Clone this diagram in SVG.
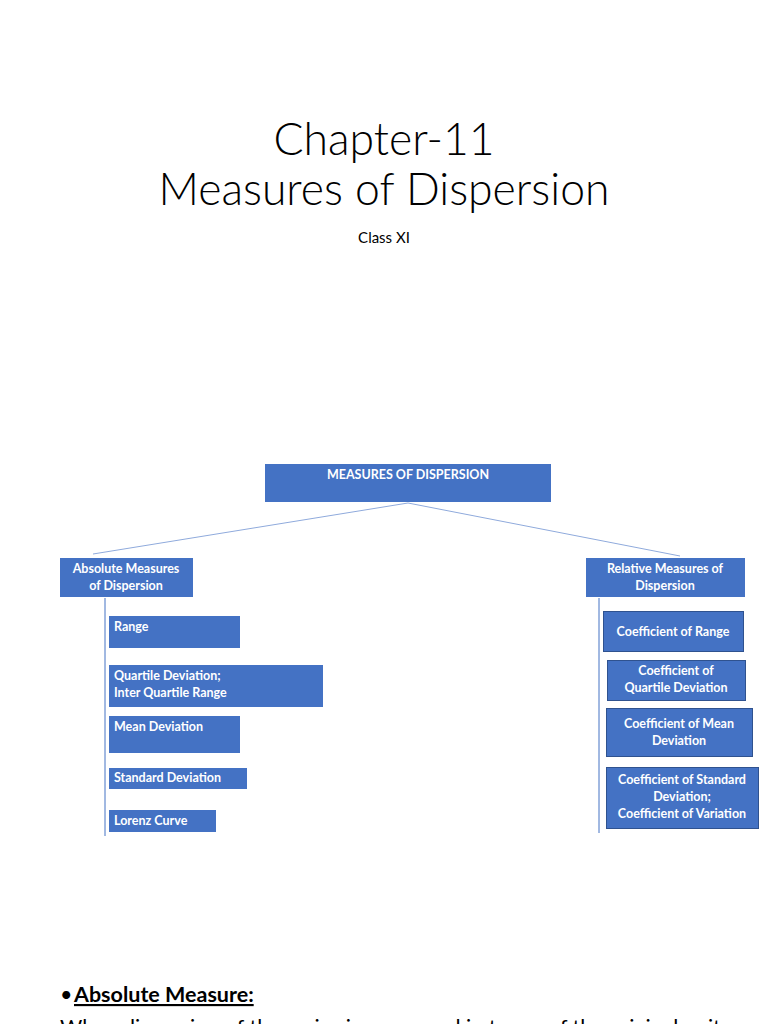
<svg xmlns="http://www.w3.org/2000/svg" width="768" height="1024" viewBox="0 0 768 1024">
<style>
.bg{fill:#ffffff}
.box{fill:#4472C4}
.boxb{fill:#4472C4;stroke:#2F528F;stroke-width:1}
.t{font-family:Lato,"Open Sans","Liberation Sans",sans-serif;font-weight:bold;font-size:12.5px;fill:#ffffff}
.c{text-anchor:middle}
.title{font-family:Lato,"Open Sans","Liberation Sans",sans-serif;font-weight:300;font-size:44.5px;fill:#000000;text-anchor:middle}
.body{font-family:Lato,"Open Sans","Liberation Sans",sans-serif;font-size:21.5px;fill:#000000}
.conn{stroke:#4472C4;stroke-width:1;fill:none}
.conn2{stroke:#8FAADC;stroke-width:1;fill:none}
</style>
<rect class="bg" x="0" y="0" width="768" height="1024"/>
<g id="title">
<text class="title" x="384" y="155">Chapter-11</text>
<text class="title" x="384" y="205">Measures of Dispersion</text>
<text x="384" y="243" text-anchor="middle" style="font-family:Lato,'Liberation Sans',sans-serif;font-size:15px;fill:#000">Class XI</text>
</g>
<g id="connectors">
<line class="conn2" x1="408" y1="503" x2="93" y2="554"/>
<line class="conn2" x1="408" y1="503" x2="680" y2="556"/>
<line class="conn" x1="105" y1="598" x2="105" y2="836"/>
<line class="conn" x1="599" y1="598" x2="599" y2="833"/>
</g>
<g id="root">
<rect class="box" x="265" y="464" width="286" height="38"/>
<text class="t c" x="408" y="479">MEASURES OF DISPERSION</text>
</g>
<g id="absolute">
<rect class="box" x="60" y="558" width="133" height="39"/>
<text class="t c" x="126" y="573">Absolute Measures</text>
<text class="t c" x="126" y="590">of Dispersion</text>
</g>
<g id="relative">
<rect class="box" x="586" y="558" width="159" height="39"/>
<text class="t c" x="665" y="573">Relative Measures of</text>
<text class="t c" x="665" y="590">Dispersion</text>
</g>
<g id="range">
<rect class="box" x="109" y="616" width="131" height="32"/>
<text class="t" x="114" y="631">Range</text>
</g>
<g id="quartile">
<rect class="box" x="109" y="665" width="214" height="42"/>
<text class="t" x="114" y="680">Quartile Deviation;</text>
<text class="t" x="114" y="697">Inter Quartile Range</text>
</g>
<g id="mean">
<rect class="box" x="109" y="716" width="131" height="37"/>
<text class="t" x="114" y="731">Mean Deviation</text>
</g>
<g id="standard">
<rect class="box" x="109" y="768" width="138" height="21"/>
<text class="t" x="114" y="782">Standard Deviation</text>
</g>
<g id="lorenz">
<rect class="box" x="109" y="810" width="107" height="22"/>
<text class="t" x="114" y="825">Lorenz Curve</text>
</g>
<g id="coef-range">
<rect class="boxb" x="603.5" y="611.5" width="140" height="40"/>
<text class="t c" x="673" y="636">Coefficient of Range</text>
</g>
<g id="coef-quartile">
<rect class="boxb" x="607.5" y="660.5" width="138" height="40"/>
<text class="t c" x="676" y="675">Coefficient of</text>
<text class="t c" x="676" y="692">Quartile Deviation</text>
</g>
<g id="coef-mean">
<rect class="boxb" x="606.5" y="708.5" width="146" height="48"/>
<text class="t c" x="679" y="728">Coefficient of Mean</text>
<text class="t c" x="679" y="745">Deviation</text>
</g>
<g id="coef-sd">
<rect class="boxb" x="606.5" y="767.5" width="152" height="61"/>
<text class="t c" x="682" y="784">Coefficient of Standard</text>
<text class="t c" x="682" y="801">Deviation;</text>
<text class="t c" x="682" y="818">Coefficient of Variation</text>
</g>
<g id="bottom-text">
<text class="body" x="60" y="1002">•</text>
<text class="body" x="74" y="1002" font-weight="bold" text-decoration="underline">Absolute Measure:</text>
<text class="body" x="60" y="1035">When dispersion of the series is expressed in terms of the original unit</text>
</g>
</svg>
